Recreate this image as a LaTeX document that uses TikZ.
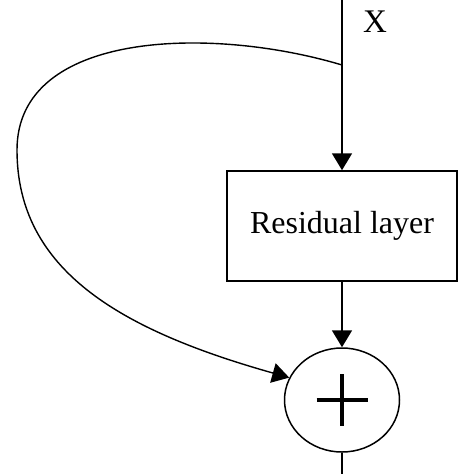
\documentclass[tikz,border=0pt]{standalone}
\usepackage{fontspec}
\setmainfont{Liberation Serif}
\usetikzlibrary{arrows.meta,shapes.geometric}
\begin{document}
\begin{tikzpicture}[x=1pt,y=-1pt,
  conn/.style={line width=1.7pt,-{Triangle[length=17pt,width=20pt]}},
  plainline/.style={line width=1.7pt},
  layerbox/.style={draw,line width=1.5pt,minimum width=230pt,minimum height=110pt,inner sep=0pt,font=\fontsize{32}{38}\selectfont},
  sumnode/.style={draw,ellipse,line width=1.5pt,minimum width=115pt,minimum height=104pt,inner sep=0pt}]
\useasboundingbox (0,0) rectangle (474,474);
\coordinate (top) at (342,0);
\coordinate (split) at (342,65);
\coordinate (bottom) at (342,474);
\node[font=\fontsize{33}{38}\selectfont] (xlabel) at (375,22) {X};
\node[layerbox] (res) at (342,226) {Residual layer};
\node[sumnode] (sum) at (342,400) {};
\draw[line width=4.5pt] (sum.center) ++(-25.5,0) -- ++(51,0);
\draw[line width=4.5pt] (sum.center) ++(0,-26) -- ++(0,52);
\draw[conn] (top) -- (res.north);
\draw[conn] (res.south) -- (sum.north);
\draw[plainline] (sum.south) -- (bottom);
\draw[line width=1.4pt,-{Triangle[length=17pt,width=20pt]}] (split) .. controls (212,26) and (17,30) .. (17,150) .. controls (17,270) and (120,330) .. (sum.157.5);
\end{tikzpicture}
\end{document}
